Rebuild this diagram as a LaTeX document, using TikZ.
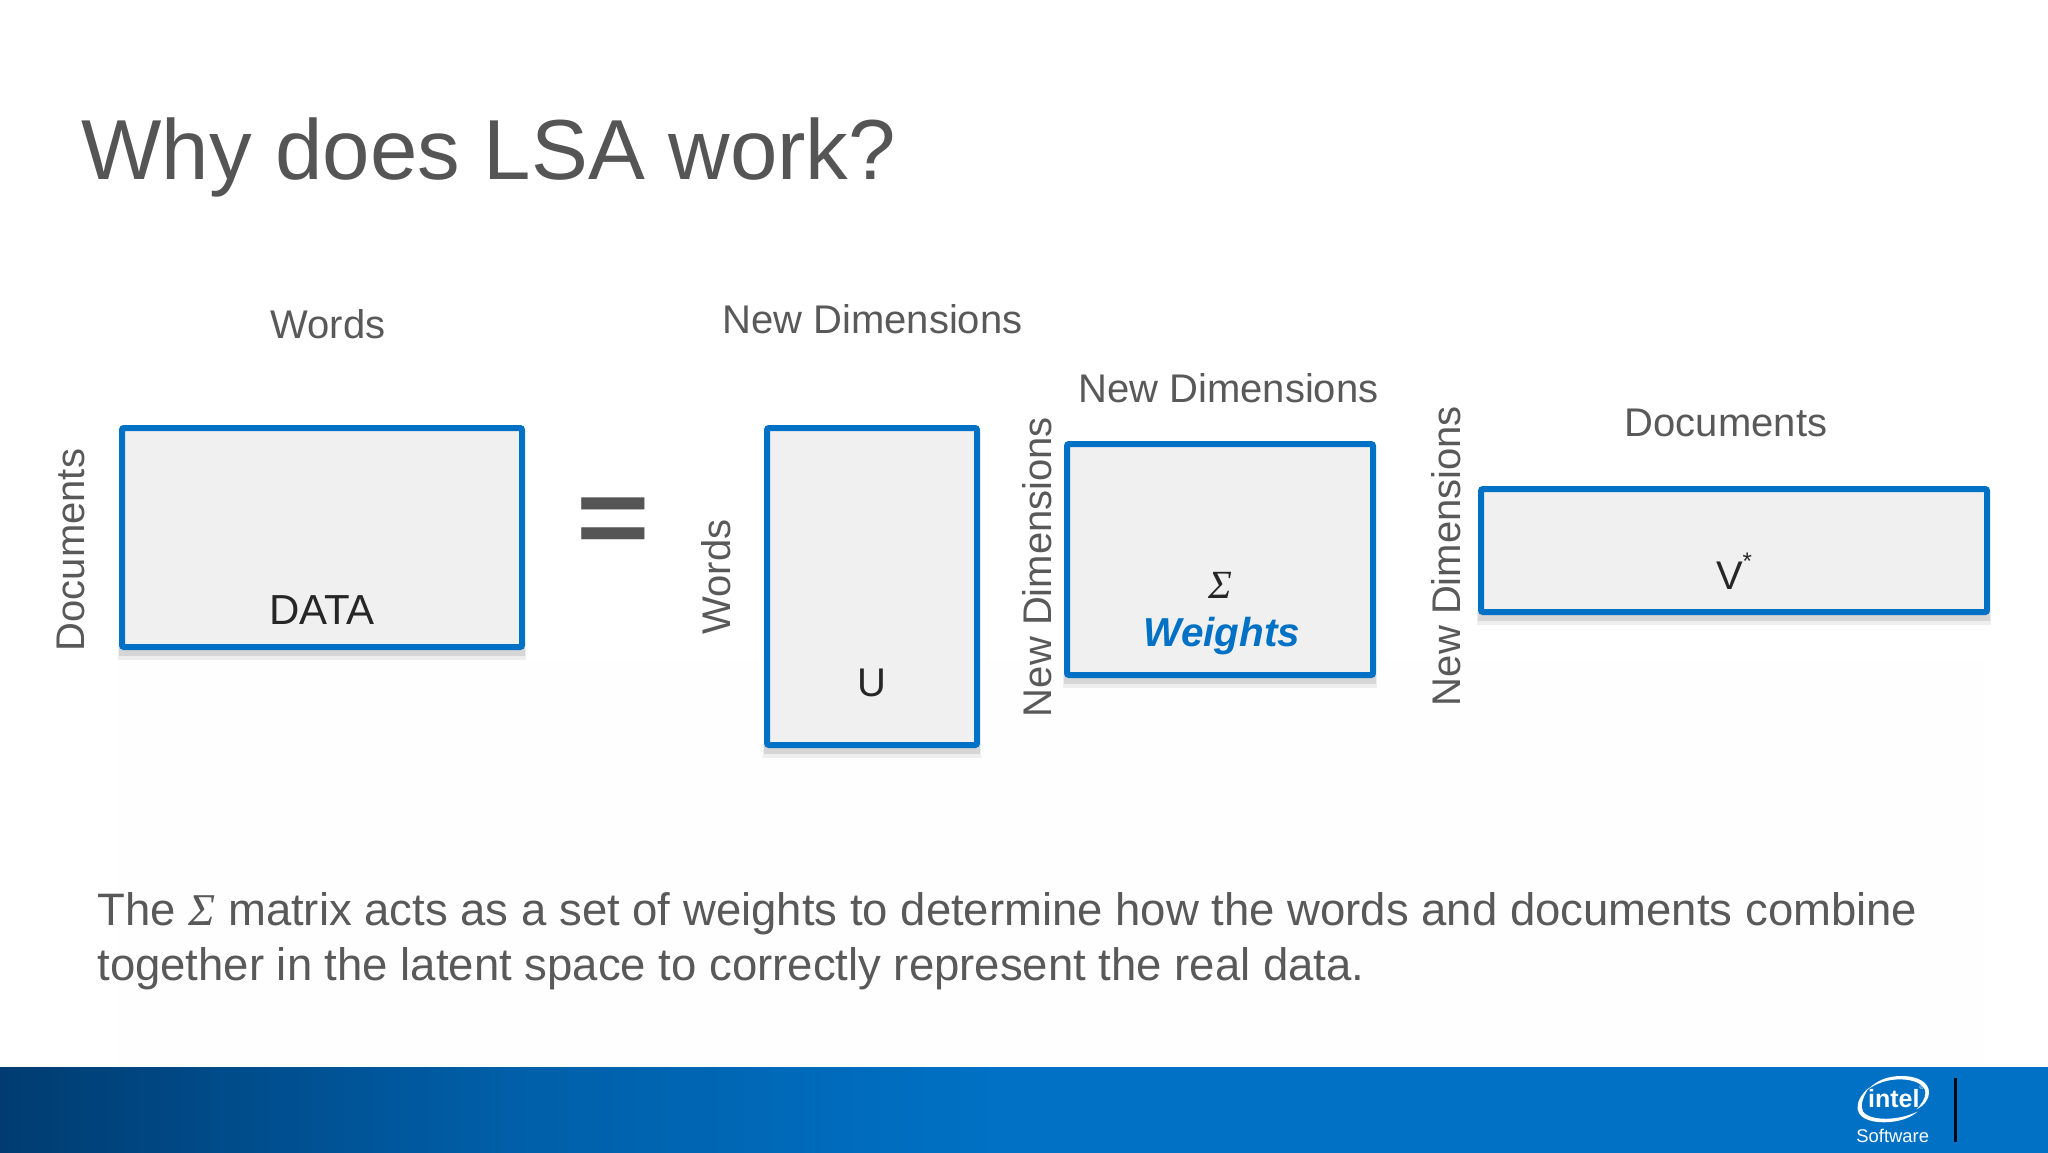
\documentclass[tikz,border=0pt]{standalone}
\usepackage{fontspec}
\setmainfont{Liberation Sans}
\newfontfamily\serifit[ItalicFont=Liberation Serif Italic]{Liberation Serif}
\definecolor{ititle}{HTML}{555555}
\definecolor{ilabel}{HTML}{595959}
\definecolor{idark}{HTML}{262626}
\definecolor{iblue}{HTML}{0071C5}
\definecolor{inavy}{HTML}{003C71}
\definecolor{ifill}{HTML}{F1F0F1}
\definecolor{ishadowA}{HTML}{D6D6D6}
\definecolor{ishadowB}{HTML}{EEEEEE}
\definecolor{ifaint}{HTML}{FEFEFE}
\tikzset{
  matbox/.style={draw=iblue,line width=3pt,fill=ifill,rounded corners=1pt},
  lab/.style={font=\fontsize{20}{24}\selectfont,text=ilabel,anchor=base,inner sep=0pt},
  vlab/.style={lab,rotate=90},
  intext/.style={font=\fontsize{20}{24}\selectfont,text=idark,anchor=base,inner sep=0pt},
  logofill/.style={fill=white,draw=none},
}
\newcommand{\SigmaIt}[1]{{\serifit\itshape\fontsize{#1}{#1}\selectfont Σ}}
\newcommand{\matshadow}[4]{%
  \fill[ishadowB] (#1-1,#4-4) rectangle (#3+1,#4+10);
  \fill[ishadowA] (#1,#4-4) rectangle (#3,#4+6);
}
\begin{document}
\begin{tikzpicture}[x=0.5pt,y=-0.5pt]
\useasboundingbox (0,0) rectangle (2048,1152);
\fill[white] (0,0) rectangle (2048,1152);
\fill[ifaint] (115,660) rectangle (1985,1067);
% footer band
\shade[left color=inavy,right color=iblue,middle color=iblue!65!inavy,shading angle=90] (0,1067) rectangle (1000,1156);
\fill[iblue] (999,1067) rectangle (2048,1156);
\node[anchor=base west,inner sep=0pt,font=\fontsize{42.6}{50}\selectfont,text=ititle] (title) at (81,179) {Why does LSA work?};
% shadows
\matshadow{119}{0}{525}{650}
\matshadow{764}{0}{980}{748}
\matshadow{1064}{0}{1376}{678}
\matshadow{1478}{0}{1990}{615}
% boxes
\draw[matbox] (122,428) rectangle (522,647);
\draw[matbox] (767,428) rectangle (977,745);
\draw[matbox] (1067,444) rectangle (1373,675);
\draw[matbox] (1481,489) rectangle (1987,612);
% labels
\node[lab] (wordsA) at (328,338) {Words};
\node[vlab] (docsA) at (84,550) {Documents};
\node[intext,font=\fontsize{21}{24}\selectfont] (dataT) at (322,624) {DATA};
\node[anchor=base,inner sep=0pt,font=\bfseries\fontsize{63}{70}\selectfont,text=ititle] (eq) at (613,555) {\scalebox{1}[0.88]{=}};
\node[lab] (newA) at (872.5,333) {New Dimensions};
\node[vlab] (wordsB) at (730,577) {Words};
\node[intext] (uT) at (872,696) {U};
\node[lab] (newB) at (1228.5,402) {New Dimensions};
\node[vlab] (newC) at (1051,567) {New Dimensions};
\node[anchor=base,inner sep=0pt,text=idark] (sig) at (1220,598) {\SigmaIt{20}};
\node[anchor=base,inner sep=0pt,text=iblue,font=\bfseries\itshape\fontsize{20.2}{24}\selectfont] (wt) at (1222,646) {Weights};
\node[lab] (docsB) at (1726,436) {Documents};
\node[vlab] (newD) at (1460,556) {New Dimensions};
\node[intext] (vT) at (1734,589) {V\raisebox{0.5em}{\fontsize{12}{12}\selectfont *}};
% body
\node[anchor=base west,inner sep=0pt,text=ilabel,font=\fontsize{22.75}{27}\selectfont] (b1) at (97,925) {The \SigmaIt{22.75} matrix acts as a set of weights to determine how the words and documents combine};
\node[anchor=base west,inner sep=0pt,text=ilabel,font=\fontsize{22.75}{27}\selectfont] (b2) at (97,980) {together in the latent space to correctly represent the real data.};
% logo
\begin{scope}[shift={(1780,1050)},x=0.16667pt,y=-0.16667pt]
\fill[logofill] (268,112) .. controls (240,135) and (230,160) .. (233,178) .. controls (238,210) and (285,220) .. (330,216) .. controls (370,212) and (395,200) .. (412,185) .. controls (380,200) and (340,208) .. (305,206) .. controls (265,203) and (245,190) .. (245,170) .. controls (245,150) and (255,130) .. (268,112) -- cycle;
\fill[logofill] (264,118) .. controls (290,92) and (320,78) .. (365,78) .. controls (415,78) and (447,98) .. (447,128) .. controls (447,148) and (432,166) .. (410,178) .. controls (426,160) and (436,145) .. (436,128) .. controls (436,105) and (405,88) .. (360,88) .. controls (320,88) and (290,100) .. (264,118) -- cycle;
\node[anchor=base west,inner sep=0pt,text=white,font=\bfseries\fontsize{12.5}{14}\selectfont] (intel) at (263,171) {intel};
\node[anchor=base west,inner sep=0pt,text=white,font=\fontsize{3.2}{4}\selectfont] (reg) at (417,118) {®};
\node[anchor=base,inner sep=0pt,text=white,font=\fontsize{9.2}{11}\selectfont] (soft) at (338,276) {Software};
\coordinate (barTop) at (526,84);
\coordinate (barBot) at (526,276);
\draw[line width=1.25pt,color=black!85!inavy] (barTop) -- (barBot);
\end{scope}
\end{tikzpicture}
\end{document}
